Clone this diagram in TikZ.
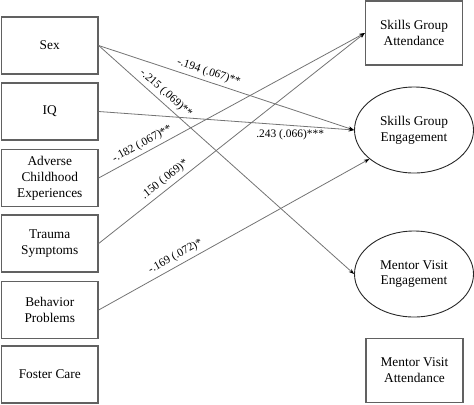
\documentclass[tikz,border=0pt]{standalone}
\usepackage{fontspec}
\setmainfont{Liberation Serif}
\usetikzlibrary{shapes.geometric,arrows.meta}
\begin{document}
\begin{tikzpicture}[x=1bp,y=-1bp,
  boxnode/.style={draw=black!62, line width=1.3pt, rectangle, minimum width=96.5bp, minimum height=57bp, inner sep=0pt, align=center, font=\fontsize{13.4}{16}\selectfont},
  outbox/.style={draw=black!62, line width=1.3pt, rectangle, minimum width=97bp, minimum height=64bp, inner sep=0pt, align=center, font=\fontsize{13.4}{16}\selectfont},
  ellnode/.style={draw=black!85, line width=0.9pt, ellipse, minimum width=119bp, minimum height=86bp, inner sep=0pt, align=center, font=\fontsize{13.4}{16}\selectfont},
  conn/.style={draw=black!55, line width=0.8pt, -{Stealth[length=5.5pt,width=4pt,color=black]}},
  lab/.style={font=\fontsize{11.5}{13}\selectfont, inner sep=3.5pt}]
\useasboundingbox (0,0) rectangle (474,404);
% left boxes
\node[boxnode] (sex) at (49.75,45.5) {Sex};
\node[boxnode] (iq) at (49.75,111.5) {IQ};
\node[boxnode] (ace) at (49.75,178) {Adverse\\Childhood\\Experiences};
\node[boxnode] (trauma) at (49.75,243.5) {Trauma\\Symptoms};
\node[boxnode] (behav) at (49.75,310) {Behavior\\Problems};
\node[boxnode] (foster) at (49.75,374.5) {Foster Care};
% right nodes
\node[outbox] (sga) at (414,33) {Skills Group\\Attendance};
\node[ellnode] (sge) at (414,130) {Skills Group\\Engagement};
\node[ellnode] (mve) at (414,274) {Mentor Visit\\Engagement};
\node[outbox] (mva) at (414.5,370.5) {Mentor Visit\\Attendance};
% connectors
\draw[conn] (sex.east) -- node[lab, pos=0.42, sloped, above] {-.194 (.067)**} (sge.west);
\draw[conn] (sex.east) -- node[lab, pos=0.24, sloped, above] {-.215 (.069)**} (mve.west);
\draw[conn] (iq.east) -- node[lab, pos=0.75, below] {.243 (.066)***} (sge.west);
\draw[conn] (ace.east) -- node[lab, pos=0.18, sloped, above] {-.182 (.067)**} (sga.west);
\draw[conn] (trauma.east) -- node[lab, pos=0.27, sloped, above] {.150 (.069)*} (sga.west);
\draw[conn] (behav.east) -- node[lab, pos=0.30, sloped, above] {-.169 (.072)*} (sge.213);
\end{tikzpicture}
\end{document}
